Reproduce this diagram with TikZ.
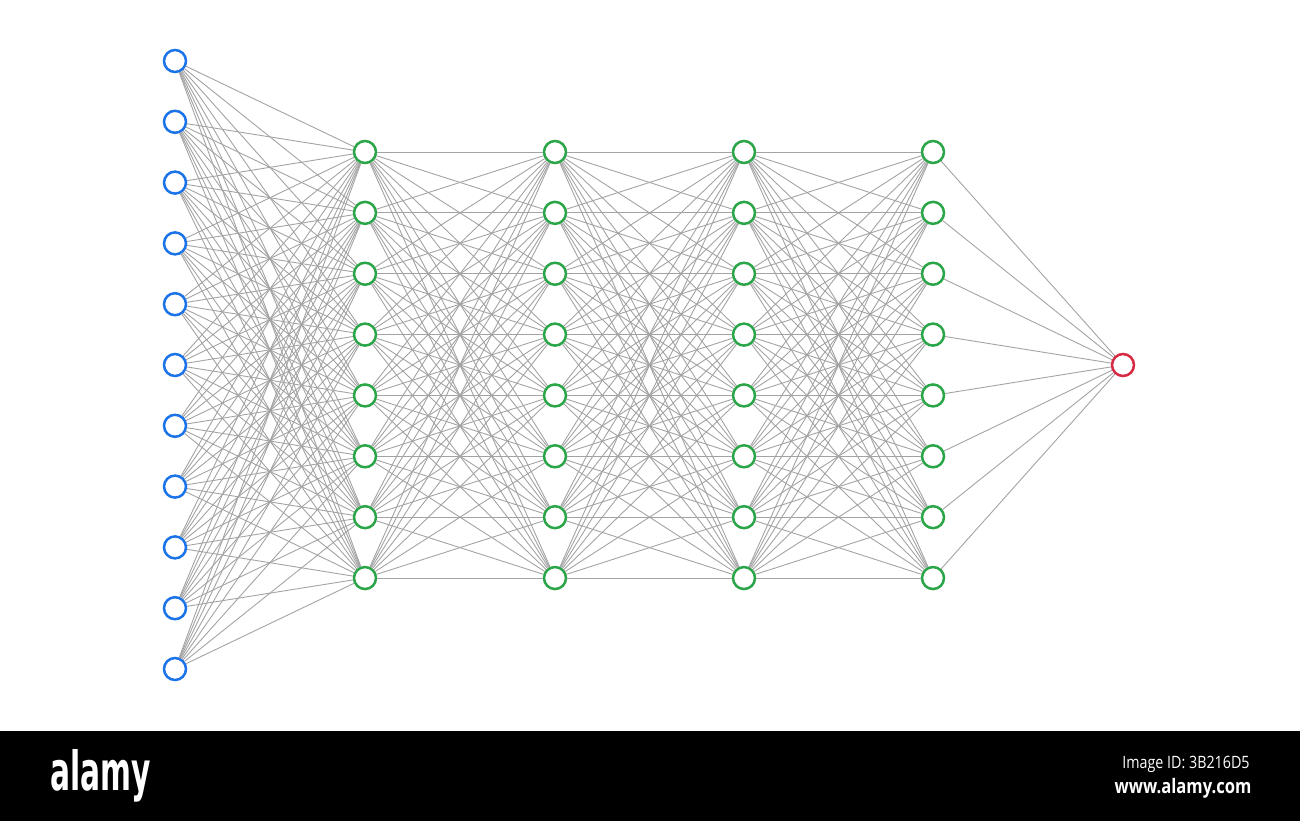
\documentclass[tikz,border=0pt]{standalone}
\usepackage{fontspec}
\setmainfont{Open Sans}
\newfontfamily\logofont{DejaVu Sans}
\usetikzlibrary{positioning}
\usepackage{xcolor}
\definecolor{mblue}{HTML}{1A73E8}
\definecolor{mgreen}{HTML}{2AA548}
\definecolor{mred}{HTML}{D62A42}
\definecolor{mgray}{HTML}{A3A3A3}
\tikzstyle{l1}=[line width=0.45pt]
\tikzstyle{l2}=[line width=1.25pt]
\tikzstyle{neuron}=[circle, draw=black, fill=white, minimum size=11pt, inner sep=0pt, l2]
\tikzstyle{edge}=[l1, mgray]

\begin{document}
\begin{tikzpicture}[x=0.5pt, y=-0.5pt]
    \useasboundingbox (0,0) rectangle (1300,821);
    % input layer
    \foreach \i in {1,...,11}
        \node[neuron, draw=mblue] (i\i) at (175, {61+(\i-1)*60.8}) {};
    % hidden layers
    \foreach \l/\x in {a/365, b/555, c/744, d/933}
        \foreach \j in {1,...,8}
            \node[neuron, draw=mgreen] (\l\j) at (\x, {152+(\j-1)*60.86}) {};
    % output
    \node[neuron, draw=mred] (o) at (1123, 365) {};

    % connections
    \foreach \i in {1,...,11}
        \foreach \j in {1,...,8}
            \draw[edge] (i\i) -- (a\j);
    \foreach \p/\q in {a/b, b/c, c/d}
        \foreach \i in {1,...,8}
            \foreach \j in {1,...,8}
                \draw[edge] (\p\i) -- (\q\j);
    \foreach \j in {1,...,8}
        \draw[edge] (d\j) -- (o);

    % banner
    \fill[black] (0,731) rectangle (1300,821);
    \node[white, font={\logofont\bfseries\fontsize{27}{27}\selectfont}] (logo) at (101,776) {\scalebox{0.55}[1]{alamy}};
    \node[white, font={\fontsize{8.5}{9}\selectfont}] (imgid) at (1186,764) {\scalebox{0.84}[1]{Image ID: 3B216D5}};
    \node[white, font={\bfseries\fontsize{10}{11}\selectfont}] (site) at (1183,788) {\scalebox{0.83}[1]{www.alamy.com}};
\end{tikzpicture}
\end{document}
